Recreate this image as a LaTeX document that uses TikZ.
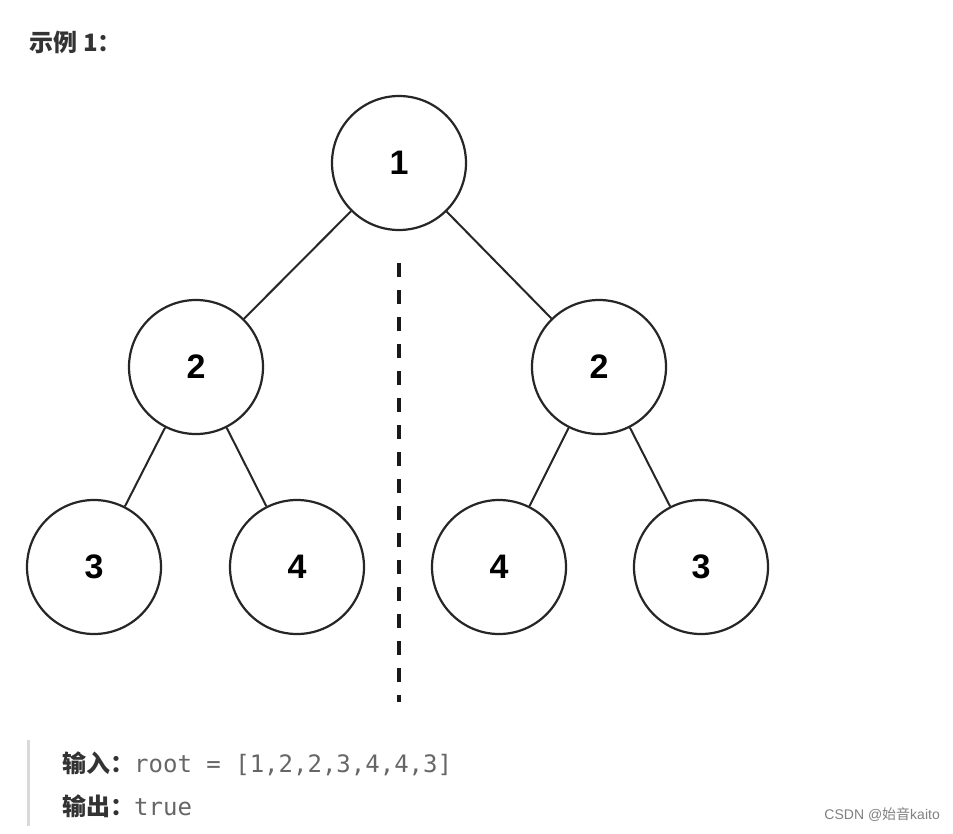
\documentclass[tikz,border=0pt]{standalone}
\usepackage{fontspec}
\setmainfont{Liberation Sans}
\setmonofont{DejaVu Sans Mono}
\newfontfamily\cjk{Noto Sans CJK SC}
\begin{document}
\begin{tikzpicture}[x=1pt,y=-1pt,
  tn/.style={circle,draw=black!85,line width=2.2pt,minimum size=134pt,inner sep=0pt,font=\fontsize{34}{40}\selectfont\bfseries},
  ed/.style={black!85,line width=2pt}]
\useasboundingbox (0,0) rectangle (953,833);
\fill[white] (0,0) rectangle (953,833);
\node[anchor=west,font=\cjk\bfseries\fontsize{24}{28}\selectfont,text=black!80] (title) at (26,42) {示例 1：};
\node[tn] (r) at (399,163) {1};
\node[tn] (a) at (196,367) {2};
\node[tn] (b) at (599,367) {2};
\node[tn] (a1) at (94,567) {3};
\node[tn] (a2) at (297,567) {4};
\node[tn] (b1) at (499,567) {4};
\node[tn] (b2) at (701,567) {3};
\draw[ed] (r) -- (a); \draw[ed] (r) -- (b);
\draw[ed] (a) -- (a1); \draw[ed] (a) -- (a2);
\draw[ed] (b) -- (b1); \draw[ed] (b) -- (b2);
\coordinate (d1) at (399,263); \coordinate (d2) at (399,702);
\draw[black!90,line width=3.5pt,dash pattern=on 14pt off 13pt] (d1) -- (d2);
\coordinate (q1) at (28,740); \coordinate (q2) at (28,826);
\draw[black!15,line width=3pt] (q1) -- (q2);
\node[anchor=west,inner sep=0pt] (in) at (62,764) {{\cjk\bfseries\fontsize{24}{28}\selectfont\color{black!80}输入：}{\ttfamily\fontsize{24}{28}\selectfont\color{black!60}root = [1,2,2,3,4,4,3]}};
\node[anchor=west,inner sep=0pt] (out) at (62,806) {{\cjk\bfseries\fontsize{24}{28}\selectfont\color{black!80}输出：}{\ttfamily\fontsize{24}{28}\selectfont\color{black!60}true}};
\node[anchor=east,inner sep=0pt,text=black!50,font=\fontsize{14}{16}\selectfont] (wm) at (940,815) {CSDN @{\cjk 始音}kaito};
\end{tikzpicture}
\end{document}
